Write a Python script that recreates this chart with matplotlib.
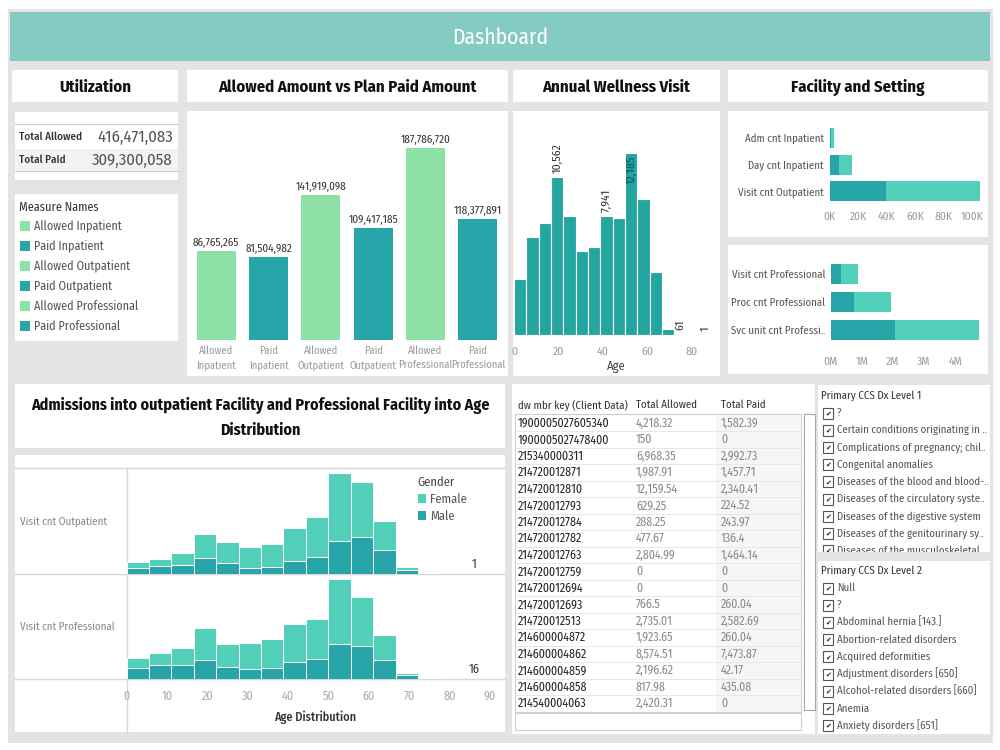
import matplotlib
matplotlib.use('Agg')
import matplotlib.pyplot as plt
from matplotlib.patches import Rectangle
import numpy as np

# ---------------- data ----------------
kpi_labels = ['Total Allowed', 'Total Paid']
kpi_values = [416471083, 309300058]

measure_names = ['Allowed Inpatient', 'Paid Inpatient', 'Allowed Outpatient',
                 'Paid Outpatient', 'Allowed Professional', 'Paid Professional']
measure_ticks = ['Allowed\nInpatient', 'Paid\nInpatient', 'Allowed\nOutpatient',
                 'Paid\nOutpatient', 'Allowed\nProfessional', 'Paid\nProfessional']
measure_values = [86765265, 81504982, 141919098, 109417185, 187786720, 118377891]

age_bin_width = 5.55
wellness_counts = [3740, 6570, 7460, 10562, 7980, 5620, 5860, 7941, 7840, 12185,
                   9090, 4230, 400, 61, 0, 1]
wellness_labeled = [3, 7, 9, 13, 15]

fac_inp_cats = ['Adm cnt Inpatient', 'Day cnt Inpatient', 'Visit cnt Outpatient']
fac_inp_male = [900, 6800, 39600]
fac_inp_female = [1900, 8800, 65300]
fac_prof_cats = ['Visit cnt Professional', 'Proc cnt Professional', 'Svc unit cnt Professi..']
fac_prof_male = [340000, 750000, 2070000]
fac_prof_female = [550000, 1180000, 2700000]

out_male = [1240, 1630, 1760, 3190, 2150, 1240, 1430, 2470, 3380, 6370, 7150, 4750, 850, 0, 0, 1]
out_female = [1040, 1300, 2340, 4680, 4160, 4100, 4420, 6500, 7740, 13260, 10860, 5660, 520, 260, 0, 0]
prof_male = [16500, 21000, 21000, 28500, 18000, 14500, 16500, 25500, 30500, 53000, 49500,
             28500, 6000, 0, 0, 16]
prof_female = [14500, 18500, 25000, 48500, 35000, 40000, 43500, 56500, 59500, 97000, 73500,
               37500, 2500, 1500, 0, 0]

table_keys = ['1900005027605340', '1900005027478400', '215340000311', '214720012871',
              '214720012810', '214720012793', '214720012784', '214720012782',
              '214720012763', '214720012759', '214720012694', '214720012693',
              '214720012513', '214600004872', '214600004862', '214600004859',
              '214600004858', '214540004063']
table_allowed = [4218.32, 150, 6968.35, 1987.91, 12159.54, 629.25, 288.25, 477.67, 2804.99,
                 0, 0, 766.5, 2735.01, 1923.65, 8574.51, 2196.62, 817.98, 2420.31]
table_paid = [1582.39, 0, 2992.73, 1457.71, 2340.41, 224.52, 243.97, 136.4, 1464.14,
              0, 0, 260.04, 2582.69, 260.04, 7473.87, 42.17, 435.08, 0]

filter1_items = ['?', 'Certain conditions originating in ..', 'Complications of pregnancy; chil..',
                 'Congenital anomalies', 'Diseases of the blood and blood-..',
                 'Diseases of the circulatory syste..', 'Diseases of the digestive system',
                 'Diseases of the genitourinary sy..', 'Diseases of the musculoskeletal']
filter2_items = ['Null', '?', 'Abdominal hernia [143.]', 'Abortion-related disorders',
                 'Acquired deformities', 'Adjustment disorders [650]',
                 'Alcohol-related disorders [660]', 'Anemia', 'Anxiety disorders [651]']

# ---------------- style ----------------
plt.rcParams['font.family'] = ['Fira Sans Condensed', 'Lato', 'DejaVu Sans']
C_ALLOW = '#8de0a6'
C_PAID = '#27a5a9'
C_MALE = '#27a5a8'
C_FEMALE = '#52d0b9'
C_WELL = '#23a6a0'
TICK = '#9a9a9a'
W, H = 1000, 750

fig = plt.figure(figsize=(10, 7.5), dpi=100)
fig.patch.set_facecolor('white')
bg = fig.add_axes([0, 0, 1, 1], zorder=0)
bg.set_xlim(0, W)
bg.set_ylim(H, 0)
bg.axis('off')


def rect(x0, y0, x1, y1, fc, ec='none', lw=0, z=0):
    r = Rectangle((x0, y0), x1 - x0, y1 - y0, facecolor=fc, edgecolor=ec, linewidth=lw, zorder=z)
    bg.add_patch(r)
    return r


def t(x, y, s, **kw):
    kw.setdefault('va', 'center')
    return bg.text(x, y, s, **kw)


def pax(x0, y0, x1, y1):
    a = fig.add_axes([x0 / W, 1 - y1 / H, (x1 - x0) / W, (y1 - y0) / H], zorder=2)
    a.set_facecolor('none')
    for s in a.spines.values():
        s.set_visible(False)
    return a


def fmt_num(v):
    return f"{v:,.2f}".rstrip('0').rstrip('.')


# frame and header
rect(8, 9, 993, 743, '#e4e4e4')
rect(10, 12, 990, 61, '#84cbc4')
t(500, 38, 'Dashboard', color='white', fontsize=15.5, ha='center')

# title boxes
titles = [((12, 178), 'Utilization'), ((187, 508), 'Allowed Amount vs Plan Paid Amount'),
          ((513, 720), 'Annual Wellness Visit'), ((728, 988), 'Facility and Setting')]
for (x0, x1), s in titles:
    rect(x0, 70, x1, 102, 'white')
    t((x0 + x1) / 2, 87, s, ha='center', fontsize=12, fontweight='bold', color='#111')

# panels
rect(15, 112, 178, 180, 'white')
rect(15, 194, 178, 341, 'white')
rect(187, 111, 508, 376, 'white')
rect(513, 111, 720, 376, 'white')
rect(728, 111, 988, 237, 'white')
rect(728, 245, 988, 374, 'white')
rect(15, 384, 505, 448, 'white')
rect(15, 455, 505, 732, 'white')
rect(512, 384, 815, 734, 'white')
p_f1 = rect(818, 385, 990, 552, 'white')
p_f2 = rect(818, 561, 990, 734, 'white')

# ---------------- KPI table ----------------
bg.plot([15, 178], [124, 124], color='#d0d0d0', lw=0.8)
rect(15, 148.5, 178, 171, '#f3f3f3')
bg.plot([15, 178], [171, 171], color='#d0d0d0', lw=0.8)
for i, (lab, val) in enumerate(zip(kpi_labels, kpi_values)):
    y = 137 + i * 23
    t(19, y, lab, fontsize=8, fontweight='medium', color='#333')
    t(173, y, f"{val:,}", fontsize=12, color='#555', ha='right')

# Measure names legend
t(19, 207, 'Measure Names', fontsize=8.8, color='#333')
for i, name in enumerate(measure_names):
    y = 226 + i * 20
    col = C_ALLOW if name.startswith('Allowed') else C_PAID
    rect(20, y - 5, 30, y + 5, col)
    t(34, y, name, fontsize=8.7, color='#555')

# ---------------- Allowed vs Paid bars ----------------
ax = pax(190, 118, 504, 340)
cols = [C_ALLOW if n.startswith('Allowed') else C_PAID for n in measure_names]
xs = np.arange(len(measure_values))
ax.bar(xs, measure_values, width=0.75, color=cols)
ax.set_xlim(-0.5, 5.5)
ax.set_ylim(0, 217e6)
for x, v in zip(xs, measure_values):
    ax.text(x, v + 2.5e6, f"{v:,}", ha='center', va='bottom', fontsize=8, color='#333')
ax.set_yticks([])
ax.set_xticks(xs)
ax.set_xticklabels(measure_ticks, fontsize=7.6, color=TICK, linespacing=1.45)
ax.tick_params(axis='x', length=0, pad=4)

# ---------------- Annual wellness histogram ----------------
ax = pax(514, 118, 718, 335)
lefts = np.arange(len(wellness_counts)) * age_bin_width
ax.bar(lefts, wellness_counts, width=age_bin_width, align='edge', color=C_WELL,
       edgecolor='white', linewidth=0.8)
ax.set_xlim(0, 91.8)
ax.set_ylim(0, 14504)
ax.set_yticks([])
ax.set_xticks([0, 20, 40, 60, 80])
ax.tick_params(axis='x', length=0, pad=8, labelsize=8.5, labelcolor=TICK)
ax.set_xlabel('Age', fontsize=9, color='#444', labelpad=3)
for i in wellness_labeled:
    v = wellness_counts[i]
    cx = lefts[i] + age_bin_width / 2
    if v > 12000:
        ax.text(cx, v - 200, f"{v:,}", rotation=90, ha='center', va='top', fontsize=8.5,
                color='#0c4f52')
    else:
        ax.text(cx, v + 250, f"{v:,}", rotation=90, ha='center', va='bottom', fontsize=8.5,
                color='#333')

# ---------------- Facility and setting ----------------
ax = pax(829.5, 124.5, 985, 204.5)
yy = np.arange(3)
ax.barh(yy, fac_inp_male, height=0.75, color=C_MALE)
ax.barh(yy, fac_inp_female, left=fac_inp_male, height=0.75, color=C_FEMALE)
ax.set_ylim(2.5, -0.5)
ax.set_xlim(0, 108.7e3)
ax.set_yticks(yy)
ax.set_yticklabels(fac_inp_cats, fontsize=7.8, color='#555')
ax.set_xticks(np.arange(0, 100001, 20000))
ax.set_xticklabels([f"{int(v/1000)}K" for v in np.arange(0, 100001, 20000)])
ax.tick_params(axis='x', length=0, pad=5, labelsize=8.3, labelcolor=TICK)
ax.tick_params(axis='y', length=0, pad=4)

ax = pax(830.6, 260, 985, 344)
ax.barh(yy, fac_prof_male, height=0.72, color=C_MALE)
ax.barh(yy, fac_prof_female, left=fac_prof_male, height=0.72, color=C_FEMALE)
ax.set_ylim(2.5, -0.5)
ax.set_xlim(0, 4.96e6)
ax.set_yticks(yy)
ax.set_yticklabels(fac_prof_cats, fontsize=7.8, color='#555')
ax.set_xticks(np.arange(0, 4.1e6, 1e6))
ax.set_xticklabels([f"{int(v/1e6)}M" for v in np.arange(0, 4.1e6, 1e6)])
ax.tick_params(axis='x', length=0, pad=9, labelsize=8.3, labelcolor=TICK)
ax.tick_params(axis='y', length=0, pad=4)

# ---------------- Admissions histograms ----------------
t(260, 406, 'Admissions into outpatient Facility and Professional Facility into Age',
  ha='center', fontsize=11.5, fontweight='bold', color='#111')
t(260, 430, 'Distribution', ha='center', fontsize=11.5, fontweight='bold', color='#111')

for yl in (468, 574, 679):
    bg.plot([15, 505], [yl, yl], color='#d8d8d8', lw=1, zorder=1)
bg.plot([126.7, 126.7], [468, 732], color='#d8d8d8', lw=1, zorder=1)
t(20, 522, 'Visit cnt Outpatient', fontsize=7.9, color='#888')
t(20, 627, 'Visit cnt Professional', fontsize=7.9, color='#888')

for (y0, y1, male, female, top) in [(468, 574, out_male, out_female, 1.053),
                                    (574, 679, prof_male, prof_female, 1.05)]:
    ax = pax(126.5, y0, 503, y1)
    lefts = np.arange(len(male)) * age_bin_width
    ax.bar(lefts, male, width=age_bin_width, align='edge', color=C_MALE,
           edgecolor='white', linewidth=0.7)
    ax.bar(lefts, female, bottom=male, width=age_bin_width, align='edge', color=C_FEMALE,
           edgecolor='white', linewidth=0.7)
    tot = np.array(male) + np.array(female)
    ax.set_xlim(0, 93.2)
    ax.set_ylim(0, tot.max() * top)
    ax.set_yticks([])
    ax.text(lefts[-1] + age_bin_width / 2, tot.max() * 0.03, f"{tot[-1]:,}", ha='center',
            va='bottom', fontsize=9, color='#333')
    if y0 == 574:
        ax.set_xticks(np.arange(0, 91, 10))
        ax.tick_params(axis='x', length=0, pad=8, labelsize=8.8, labelcolor='#aaa')
    else:
        ax.set_xticks([])

t(315, 717, 'Age Distribution', ha='center', fontsize=8.8, fontweight='medium', color='#333')
t(417, 482, 'Gender', fontsize=9, color='#444')
rect(418, 494, 426, 503, C_FEMALE, z=3)
t(430, 499, 'Female', fontsize=9, color='#555', zorder=3)
rect(418, 511, 426, 520, C_MALE, z=3)
t(430, 516, 'Male', fontsize=9, color='#555', zorder=3)

# ---------------- Data table ----------------
t(518, 405, 'dw mbr key (Client Data)', fontsize=7.9, color='#333')
t(636, 405, 'Total Allowed', fontsize=7.9, color='#333')
t(721, 405, 'Total Paid', fontsize=7.9, color='#333')
rect(515, 414, 801, 712, 'white', ec='#cfcfcf', lw=0.8)
for i, (k, a, p) in enumerate(zip(table_keys, table_allowed, table_paid)):
    y = 423 + i * 16.5
    rect(716, y - 8, 801, y + 8, '#f6f6f6')
    if i > 0:
        bg.plot([515, 801], [y - 8.25, y - 8.25], color='#e4e4e4', lw=0.6)
    t(518, y, k, fontsize=8.6, color='#222')
    t(636, y, fmt_num(a), fontsize=8.6, color='#888')
    t(721, y, fmt_num(p), fontsize=8.6, color='#888')
rect(804, 414, 815, 710, 'white', ec='#a8a8a8', lw=0.8)
rect(515, 713, 801, 730, 'white', ec='#cfcfcf', lw=0.8)

# ---------------- Filters ----------------
for (panel, ytitle, title, items) in [(p_f1, 396, 'Primary CCS Dx Level 1', filter1_items),
                                      (p_f2, 571, 'Primary CCS Dx Level 2', filter2_items)]:
    t(821, ytitle, title, fontsize=7.9, color='#333')
    for i, s in enumerate(items):
        y = ytitle + 17 + i * 17.2
        box = rect(822.5, y - 5.5, 833, y + 5.5, 'white', ec='#555', lw=0.8, z=2)
        box.set_clip_path(panel)
        ck = t(827.7, y + 0.5, '\u2714', fontsize=5, ha='center', color='#222',
               family='DejaVu Sans', zorder=3, clip_on=True)
        ck.set_clip_path(panel)
        tx = t(837, y, s, fontsize=7.8, color='#555', zorder=3, clip_on=True)
        tx.set_clip_path(panel)

fig.savefig('out.png', dpi=100, facecolor='white')
